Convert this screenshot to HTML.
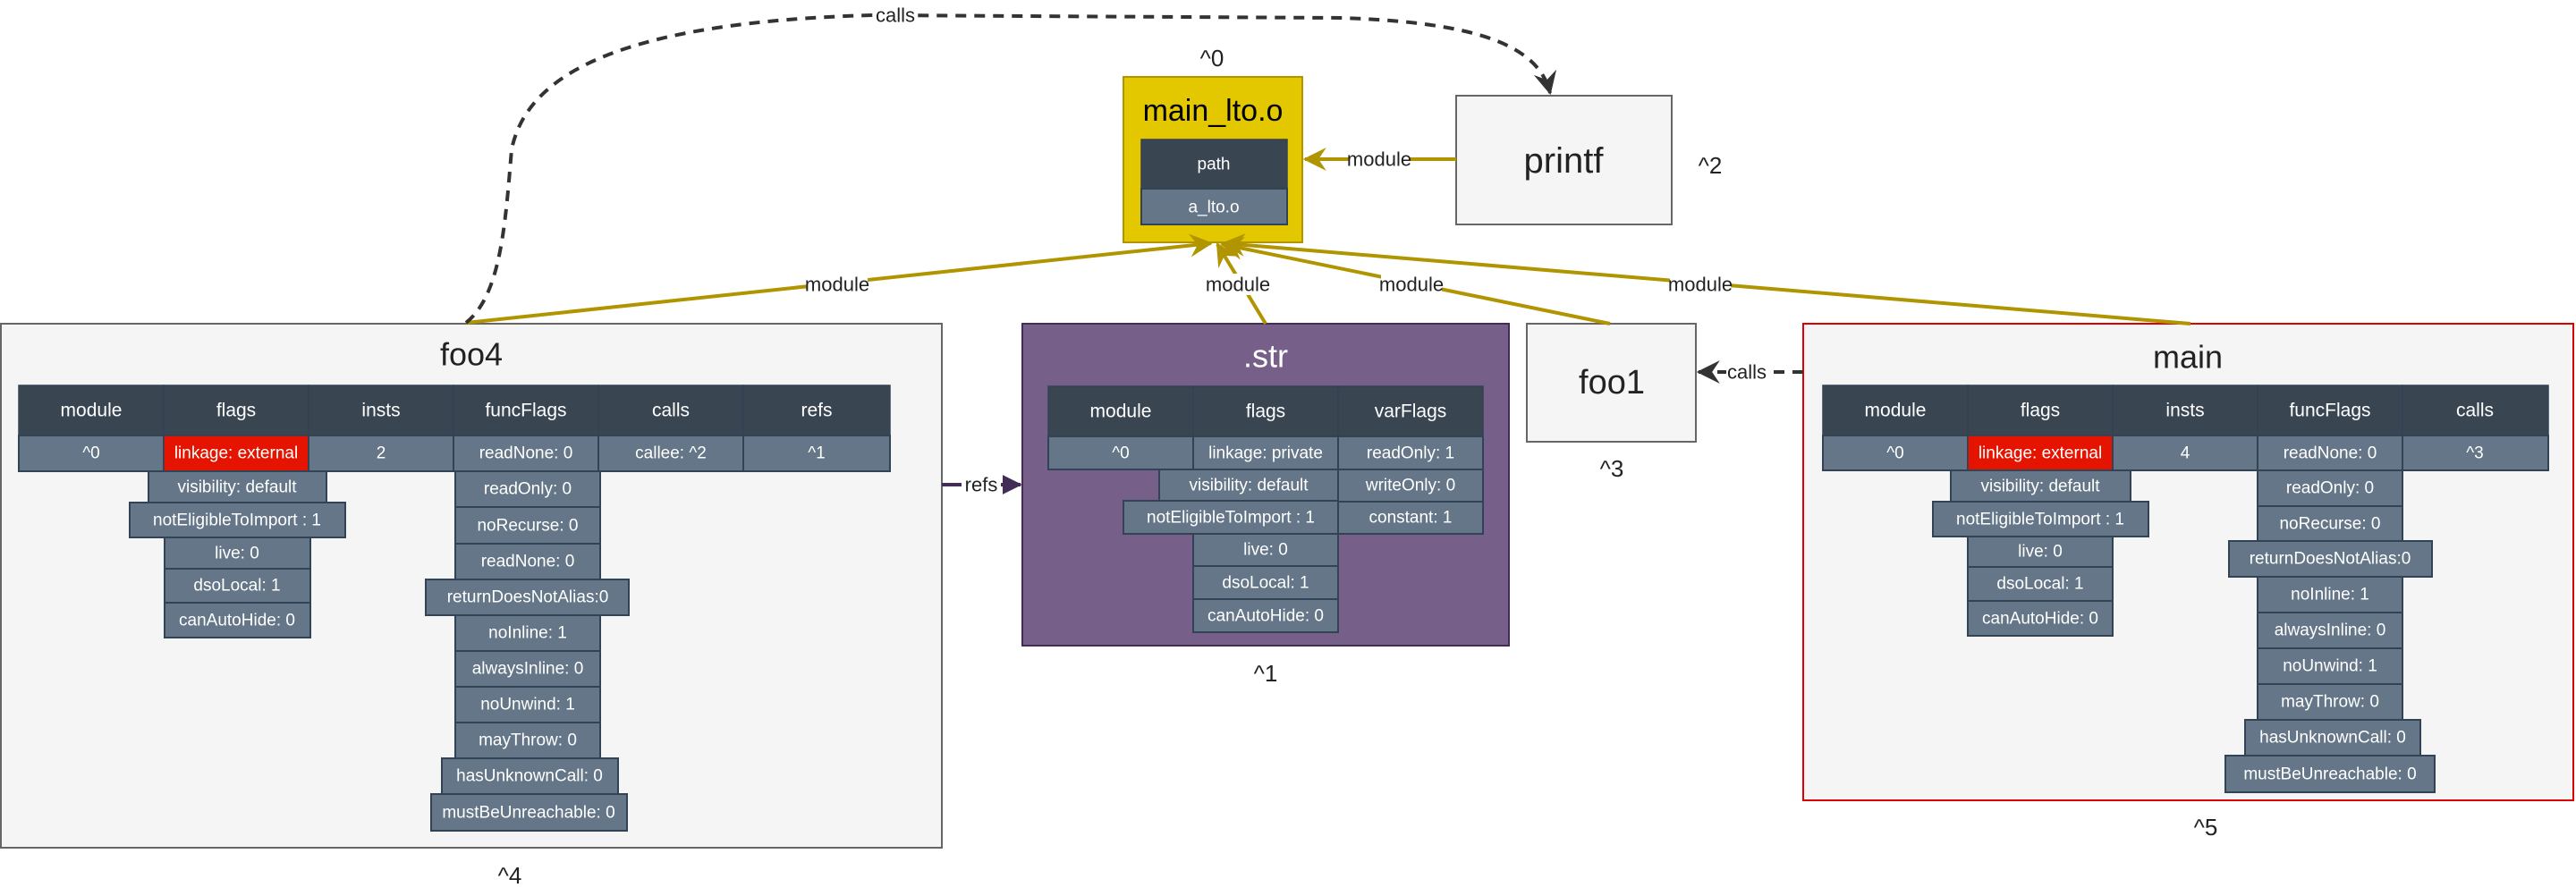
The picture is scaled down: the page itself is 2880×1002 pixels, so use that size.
<!DOCTYPE html>
<html><head><meta charset="utf-8"><style>
html,body{margin:0;padding:0;background:#fff;}
svg{display:block;}
text{font-family:"Liberation Sans",sans-serif;}
.h{fill:#3a4552;stroke:#314354;stroke-width:1.5}
.c{fill:#647687;stroke:#314354;stroke-width:2}
.r{fill:#e51400;stroke:#314354;stroke-width:1.5}
.t{fill:#fff;font-size:19px;text-anchor:middle;dominant-baseline:central}
.th{fill:#fff;font-size:21px;text-anchor:middle;dominant-baseline:central}
.l{fill:#222;font-size:22px;text-anchor:middle;dominant-baseline:central}
.n{fill:#222;font-size:26px;text-anchor:middle;dominant-baseline:central}
</style></head><body>
<svg width="2880" height="1002" viewBox="0 0 2880 1002" xmlns="http://www.w3.org/2000/svg">
<defs>
<marker id="ag" markerWidth="12" markerHeight="12" refX="10" refY="6" orient="auto" markerUnits="userSpaceOnUse"><path d="M0,0 L12,6 L0,12 L4,6 Z" fill="#b09500" transform="scale(2)" /></marker>
<marker id="ay" viewBox="0 0 12 12" markerWidth="26" markerHeight="26" refX="11" refY="6" orient="auto" markerUnits="userSpaceOnUse"><path d="M0,0 L12,6 L0,12 L4,6 Z" fill="#b09500"/></marker>
<marker id="ak" viewBox="0 0 12 12" markerWidth="26" markerHeight="26" refX="11" refY="6" orient="auto" markerUnits="userSpaceOnUse"><path d="M0,0 L12,6 L0,12 L4,6 Z" fill="#333"/></marker>
<marker id="ap" viewBox="0 0 12 12" markerWidth="22" markerHeight="22" refX="11" refY="6" orient="auto" markerUnits="userSpaceOnUse"><path d="M0,0 L12,6 L0,12 Z" fill="#432d57"/></marker>
</defs>

<!-- foo4 -->
<rect x="1" y="362" width="1052" height="586" fill="#f5f5f5" stroke="#666" stroke-width="2"/>
<text x="527" y="396" class="n" style="font-size:36px">foo4</text>
<g>
<rect class="h" x="21" y="431" width="162" height="56"/><text class="th" x="102" y="459">module</text>
<rect class="h" x="183" y="431" width="162" height="56"/><text class="th" x="264" y="459">flags</text>
<rect class="h" x="345" y="431" width="162" height="56"/><text class="th" x="426" y="459">insts</text>
<rect class="h" x="507" y="431" width="162" height="56"/><text class="th" x="588" y="459">funcFlags</text>
<rect class="h" x="669" y="431" width="162" height="56"/><text class="th" x="750" y="459">calls</text>
<rect class="h" x="831" y="431" width="164" height="56"/><text class="th" x="913" y="459">refs</text>
<rect class="c" x="21" y="487" width="162" height="40"/><text class="t" x="102" y="507">^0</text>
<rect class="r" x="183" y="487" width="162" height="40"/><text class="t" x="264" y="507">linkage: external</text>
<rect class="c" x="345" y="487" width="162" height="40"/><text class="t" x="426" y="507">2</text>
<rect class="c" x="507" y="487" width="162" height="40"/><text class="t" x="588" y="507">readNone: 0</text>
<rect class="c" x="669" y="487" width="162" height="40"/><text class="t" x="750" y="507">callee: ^2</text>
<rect class="c" x="831" y="487" width="164" height="40"/><text class="t" x="913" y="507">^1</text>
<rect class="c" x="166" y="527" width="199" height="35"/><text class="t" x="265" y="545">visibility: default</text>
<rect class="c" x="145" y="562" width="241" height="39"/><text class="t" x="265" y="582">notEligibleToImport : 1</text>
<rect class="c" x="184" y="601" width="163" height="35"/><text class="t" x="265" y="619">live: 0</text>
<rect class="c" x="184" y="636" width="163" height="38"/><text class="t" x="265" y="655">dsoLocal: 1</text>
<rect class="c" x="184" y="674" width="163" height="39"/><text class="t" x="265" y="694">canAutoHide: 0</text>
<rect class="c" x="509" y="527" width="162" height="40"/><text class="t" x="590" y="547">readOnly: 0</text>
<rect class="c" x="509" y="567" width="162" height="41"/><text class="t" x="590" y="588">noRecurse: 0</text>
<rect class="c" x="509" y="608" width="162" height="40"/><text class="t" x="590" y="628">readNone: 0</text>
<rect class="c" x="476" y="648" width="227" height="40"/><text class="t" x="590" y="668">returnDoesNotAlias:0</text>
<rect class="c" x="509" y="688" width="162" height="40"/><text class="t" x="590" y="708">noInline: 1</text>
<rect class="c" x="509" y="728" width="162" height="40"/><text class="t" x="590" y="748">alwaysInline: 0</text>
<rect class="c" x="509" y="768" width="162" height="40"/><text class="t" x="590" y="788">noUnwind: 1</text>
<rect class="c" x="509" y="808" width="162" height="40"/><text class="t" x="590" y="828">mayThrow: 0</text>
<rect class="c" x="494" y="848" width="197" height="40"/><text class="t" x="592" y="868">hasUnknownCall: 0</text>
<rect class="c" x="482" y="888" width="219" height="41"/><text class="t" x="591" y="909">mustBeUnreachable: 0</text>
</g>
<text x="570" y="979" class="n">^4</text>

<!-- main_lto.o -->
<rect x="1256" y="86" width="200" height="185" fill="#e3c800" stroke="#b09500" stroke-width="2"/>
<text x="1356" y="124" class="n" style="font-size:34px;fill:#000">main_lto.o</text>
<rect class="h" x="1276" y="156" width="163" height="55"/><text class="t" x="1357" y="184">path</text>
<rect class="c" x="1276" y="211" width="163" height="40"/><text class="t" x="1357" y="232">a_lto.o</text>
<text x="1355" y="65" class="n">^0</text>

<!-- printf -->
<rect x="1628" y="107" width="241" height="144" fill="#f5f5f5" stroke="#666" stroke-width="2"/>
<text x="1748" y="180" class="n" style="font-size:40px">printf</text>
<text x="1912" y="185" class="n">^2</text>

<!-- .str -->
<rect x="1143" y="362" width="544" height="360" fill="#76608a" stroke="#432d57" stroke-width="2"/>
<text x="1415" y="398" class="n" style="font-size:36px;fill:#fff">.str</text>
<rect class="h" x="1172" y="432" width="162" height="56"/><text class="th" x="1253" y="460">module</text>
<rect class="h" x="1334" y="432" width="162" height="56"/><text class="th" x="1415" y="460">flags</text>
<rect class="h" x="1496" y="432" width="162" height="56"/><text class="th" x="1577" y="460">varFlags</text>
<rect class="c" x="1172" y="488" width="162" height="37"/><text class="t" x="1253" y="507">^0</text>
<rect class="c" x="1334" y="488" width="162" height="37"/><text class="t" x="1415" y="507">linkage: private</text>
<rect class="c" x="1496" y="488" width="162" height="37"/><text class="t" x="1577" y="507">readOnly: 1</text>
<rect class="c" x="1296" y="525" width="200" height="35"/><text class="t" x="1396" y="543">visibility: default</text>
<rect class="c" x="1256" y="560" width="240" height="37"/><text class="t" x="1376" y="579">notEligibleToImport : 1</text>
<rect class="c" x="1334" y="597" width="162" height="36"/><text class="t" x="1415" y="615">live: 0</text>
<rect class="c" x="1334" y="633" width="162" height="37"/><text class="t" x="1415" y="652">dsoLocal: 1</text>
<rect class="c" x="1334" y="670" width="162" height="37"/><text class="t" x="1415" y="689">canAutoHide: 0</text>
<rect class="c" x="1496" y="525" width="162" height="36"/><text class="t" x="1577" y="543">writeOnly: 0</text>
<rect class="c" x="1496" y="561" width="162" height="36"/><text class="t" x="1577" y="579">constant: 1</text>
<text x="1415" y="753" class="n">^1</text>

<!-- foo1 -->
<rect x="1707" y="362" width="189" height="132" fill="#f5f5f5" stroke="#666" stroke-width="2"/>
<text x="1802" y="428" class="n" style="font-size:38px">foo1</text>
<text x="1802" y="524" class="n">^3</text>

<!-- main -->
<rect x="2016" y="362" width="861" height="533" fill="#f5f5f5" stroke="#d00" stroke-width="2"/>
<text x="2446" y="399" class="n" style="font-size:36px">main</text>
<rect class="h" x="2038" y="431" width="162" height="56"/><text class="th" x="2119" y="459">module</text>
<rect class="h" x="2200" y="431" width="162" height="56"/><text class="th" x="2281" y="459">flags</text>
<rect class="h" x="2362" y="431" width="162" height="56"/><text class="th" x="2443" y="459">insts</text>
<rect class="h" x="2524" y="431" width="162" height="56"/><text class="th" x="2605" y="459">funcFlags</text>
<rect class="h" x="2686" y="431" width="163" height="56"/><text class="th" x="2767" y="459">calls</text>
<rect class="c" x="2038" y="487" width="162" height="39"/><text class="t" x="2119" y="507">^0</text>
<rect class="r" x="2200" y="487" width="162" height="39"/><text class="t" x="2281" y="507">linkage: external</text>
<rect class="c" x="2362" y="487" width="162" height="39"/><text class="t" x="2443" y="507">4</text>
<rect class="c" x="2524" y="487" width="162" height="39"/><text class="t" x="2605" y="507">readNone: 0</text>
<rect class="c" x="2686" y="487" width="163" height="39"/><text class="t" x="2767" y="507">^3</text>
<rect class="c" x="2181" y="526" width="201" height="35"/><text class="t" x="2281" y="544">visibility: default</text>
<rect class="c" x="2161" y="561" width="241" height="39"/><text class="t" x="2281" y="581">notEligibleToImport : 1</text>
<rect class="c" x="2200" y="600" width="162" height="34"/><text class="t" x="2281" y="617">live: 0</text>
<rect class="c" x="2200" y="634" width="162" height="38"/><text class="t" x="2281" y="653">dsoLocal: 1</text>
<rect class="c" x="2200" y="672" width="162" height="39"/><text class="t" x="2281" y="692">canAutoHide: 0</text>
<rect class="c" x="2524" y="526" width="162" height="40"/><text class="t" x="2605" y="546">readOnly: 0</text>
<rect class="c" x="2524" y="566" width="162" height="39"/><text class="t" x="2605" y="586">noRecurse: 0</text>
<rect class="c" x="2492" y="605" width="227" height="40"/><text class="t" x="2605" y="625">returnDoesNotAlias:0</text>
<rect class="c" x="2524" y="645" width="162" height="40"/><text class="t" x="2605" y="665">noInline: 1</text>
<rect class="c" x="2524" y="685" width="162" height="40"/><text class="t" x="2605" y="705">alwaysInline: 0</text>
<rect class="c" x="2524" y="725" width="162" height="40"/><text class="t" x="2605" y="745">noUnwind: 1</text>
<rect class="c" x="2524" y="765" width="162" height="40"/><text class="t" x="2605" y="785">mayThrow: 0</text>
<rect class="c" x="2510" y="805" width="196" height="40"/><text class="t" x="2608" y="825">hasUnknownCall: 0</text>
<rect class="c" x="2488" y="845" width="234" height="41"/><text class="t" x="2605" y="866">mustBeUnreachable: 0</text>
<text x="2466" y="925" class="n">^5</text>

<!-- connectors -->
<g fill="none" stroke="#b09500" stroke-width="4">
<path d="M521,361 L1354,272" marker-end="url(#ay)"/>
<path d="M1415,362 L1361,273" marker-end="url(#ay)"/>
<path d="M1800,362 L1366,273" marker-end="url(#ay)"/>
<path d="M2449,362 L1368,272" marker-end="url(#ay)"/>
<path d="M1628,178 L1459,178" marker-end="url(#ay)"/>
</g>
<g fill="none" stroke="#333" stroke-width="4" stroke-dasharray="12,9">
<path d="M521,361 C560,330 565,250 572,167 C590,80 700,25 974,17 L1500,20 C1650,25 1720,50 1733,104" marker-end="url(#ak)"/>
<path d="M2016,416 L1899,416" marker-end="url(#ak)"/>
</g>
<path d="M1053,542 L1141,542" stroke="#432d57" stroke-width="4" fill="none" marker-end="url(#ap)"/>

<!-- labels -->
<g>
<rect x="1508" y="166" width="68" height="24" fill="#fff"/><text class="l" x="1542" y="178">module</text>
<rect x="902" y="306" width="68" height="24" fill="#fff"/><text class="l" x="936" y="318">module</text>
<rect x="1350" y="306" width="68" height="24" fill="#fff"/><text class="l" x="1384" y="318">module</text>
<rect x="1544" y="306" width="68" height="24" fill="#fff"/><text class="l" x="1578" y="318">module</text>
<rect x="1867" y="306" width="68" height="24" fill="#fff"/><text class="l" x="1901" y="318">module</text>
<rect x="978" y="5" width="46" height="24" fill="#fff"/><text class="l" x="1001" y="17">calls</text>
<rect x="1930" y="404" width="46" height="24" fill="#fff"/><text class="l" x="1953" y="416">calls</text>
<rect x="1075" y="530" width="44" height="24" fill="#fff"/><text class="l" x="1097" y="542">refs</text>
</g>
</svg>
</body></html>
